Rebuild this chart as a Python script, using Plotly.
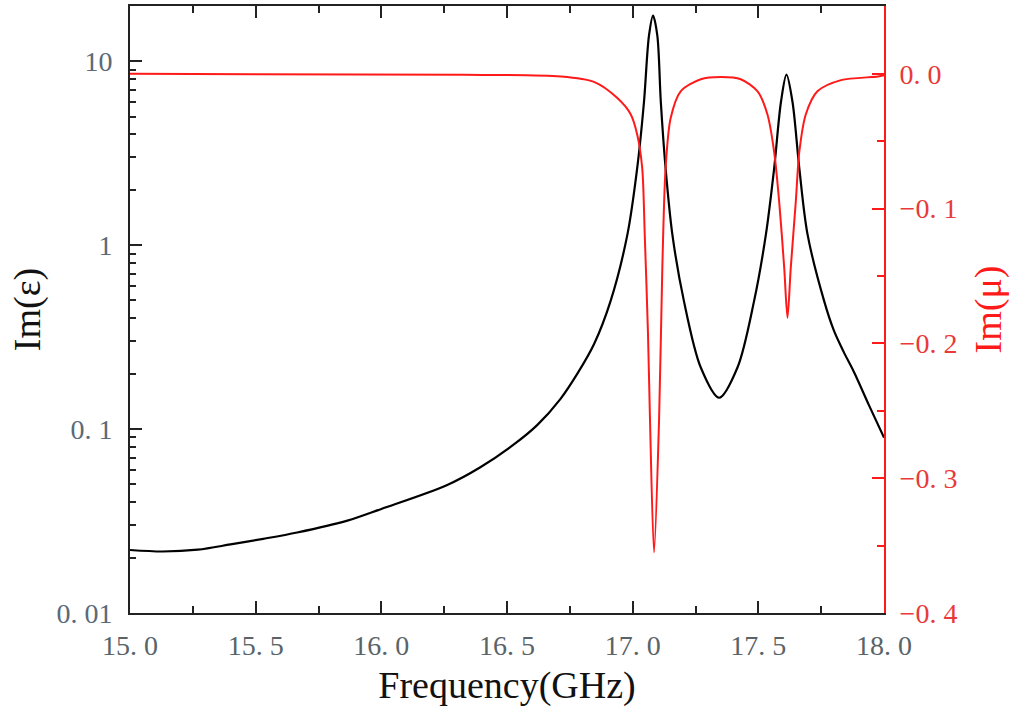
import plotly.graph_objects as go

# ---------------- data ----------------
freq_eps = [15.00, 15.13, 15.27, 15.40, 15.53, 15.665, 15.865, 16.00, 16.26, 16.394,
            16.53, 16.62, 16.713, 16.78, 16.846, 16.912, 16.979, 17.018, 17.045, 17.065,
            17.081, 17.098, 17.112, 17.131, 17.158, 17.204, 17.271, 17.344, 17.417, 17.483,
            17.53, 17.563, 17.59, 17.612, 17.636, 17.663, 17.696, 17.762, 17.80, 17.84,
            17.88, 17.94, 18.00]
im_eps = [0.0220, 0.0216, 0.0221, 0.0236, 0.0253, 0.0274, 0.0318, 0.0368, 0.0495, 0.062,
          0.083, 0.105, 0.146, 0.200, 0.289, 0.496, 1.14, 2.62, 6.0, 13.8,
          17.7, 13.8, 6.0, 2.62, 1.14, 0.496, 0.216, 0.148, 0.216, 0.496,
          1.14, 2.62, 6.0, 8.46, 6.0, 2.62, 1.14, 0.496, 0.345, 0.262,
          0.205, 0.135, 0.0898]

freq_mu = [15.00, 16.33, 16.713, 16.846, 16.939, 16.992, 17.018, 17.038, 17.048, 17.061,
           17.069, 17.085, 17.105, 17.118, 17.131, 17.151, 17.191, 17.271, 17.351, 17.430,
           17.497, 17.536, 17.563, 17.583, 17.603, 17.616, 17.629, 17.649, 17.663, 17.689,
           17.735, 17.829, 17.976, 18.00]
im_mu = [0.0, -0.0007, -0.002, -0.006, -0.018, -0.030, -0.045, -0.070, -0.119, -0.193,
         -0.257, -0.355, -0.257, -0.144, -0.070, -0.033, -0.013, -0.004, -0.0024, -0.004,
         -0.013, -0.030, -0.058, -0.095, -0.144, -0.181, -0.144, -0.095, -0.058, -0.030,
         -0.013, -0.0047, -0.002, -0.001]

x_tickvals = [15.0, 15.5, 16.0, 16.5, 17.0, 17.5, 18.0]
x_ticktext = ["15. 0", "15. 5", "16. 0", "16. 5", "17. 0", "17. 5", "18. 0"]
x_minor = [15.25, 15.75, 16.25, 16.75, 17.25, 17.75]

y_tickvals = [0.01, 0.1, 1, 10]
y_ticktext = ["0. 01", "0. 1", "1", "10"]
y_minor = [m * d for d in (0.01, 0.1, 1, 10) for m in range(2, 10)]

y2_tickvals = [0.0, -0.1, -0.2, -0.3, -0.4]
y2_ticktext = ["0. 0", "\u22120. 1", "\u22120. 2", "\u22120. 3", "\u22120. 4"]
y2_minor = [-0.05, -0.15, -0.25, -0.35]

SERIF = "Liberation Serif, Times New Roman, serif"
RED = "#ff1a1a"

fig = go.Figure()
fig.add_trace(go.Scatter(x=freq_eps, y=im_eps, mode="lines", name="Im(ε)",
                         line=dict(color="black", width=2.2, shape="spline", smoothing=0.9)))
fig.add_trace(go.Scatter(x=freq_mu, y=im_mu, mode="lines", name="Im(μ)", yaxis="y2",
                         line=dict(color=RED, width=2, shape="spline", smoothing=0.8)))

fig.update_layout(
    width=1020, height=721,
    margin=dict(l=130, r=136, t=4, b=108),
    paper_bgcolor="white", plot_bgcolor="white",
    showlegend=False,
    font=dict(family=SERIF),
    xaxis=dict(
        range=[15, 18], tickmode="array", tickvals=x_tickvals, ticktext=x_ticktext,
        ticks="inside", ticklen=12, tickwidth=2, tickcolor="#222",
        minor=dict(tickmode="array", tickvals=x_minor, ticks="inside", ticklen=7,
                   tickwidth=2, tickcolor="#222"),
        showline=True, linecolor="#222", linewidth=2, mirror="ticks",
        showgrid=False, zeroline=False,
        tickfont=dict(family=SERIF, size=28, color="#5a6468"),
        ticklabelstandoff=6,
        title=dict(text="Frequency(GHz)", font=dict(family=SERIF, size=38, color="#111"),
                   standoff=12),
    ),
    yaxis=dict(
        type="log", range=[-2, 1.3], tickmode="array", tickvals=y_tickvals,
        ticktext=y_ticktext,
        ticks="inside", ticklen=12, tickwidth=2, tickcolor="#222",
        minor=dict(tickmode="array", tickvals=y_minor, ticks="inside", ticklen=6,
                   tickwidth=2, tickcolor="#222"),
        showline=True, linecolor="#222", linewidth=2,
        showgrid=False, zeroline=False,
        tickfont=dict(family=SERIF, size=28, color="#5a6a78"),
        ticklabelstandoff=10,
        title=dict(text="Im(ε)", font=dict(family=SERIF, size=38, color="#111"),
                   standoff=4),
    ),
    yaxis2=dict(
        overlaying="y", side="right", range=[-0.4, 0.0503],
        tickmode="array", tickvals=y2_tickvals, ticktext=y2_ticktext,
        ticks="inside", ticklen=12, tickwidth=2, tickcolor=RED,
        minor=dict(tickmode="array", tickvals=y2_minor, ticks="inside", ticklen=7,
                   tickwidth=2, tickcolor=RED),
        showline=True, linecolor=RED, linewidth=2,
        showgrid=False, zeroline=False,
        tickfont=dict(family=SERIF, size=28, color="#e83a3a"),
        ticklabelstandoff=8,
        title=dict(text="Im(μ)", font=dict(family=SERIF, size=38, color=RED),
                   standoff=18),
    ),
)

fig.write_html("out.html")
